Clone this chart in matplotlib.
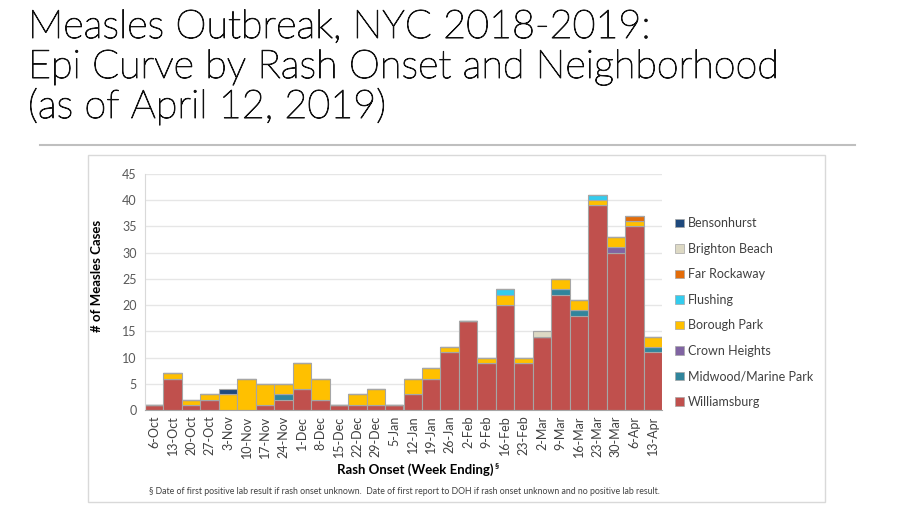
import matplotlib
matplotlib.use("Agg")
import matplotlib.pyplot as plt
import matplotlib.patheffects as pe
from matplotlib.patches import Rectangle
from matplotlib.lines import Line2D
import numpy as np

weeks = ["6-Oct", "13-Oct", "20-Oct", "27-Oct", "3-Nov", "10-Nov", "17-Nov", "24-Nov",
         "1-Dec", "8-Dec", "15-Dec", "22-Dec", "29-Dec", "5-Jan", "12-Jan", "19-Jan",
         "26-Jan", "2-Feb", "9-Feb", "16-Feb", "23-Feb", "2-Mar", "9-Mar", "16-Mar",
         "23-Mar", "30-Mar", "6-Apr", "13-Apr"]

williamsburg   = [1, 6, 1, 2, 0, 0, 1, 2, 4, 2, 1, 1, 1, 1, 3, 6, 11, 17, 9, 20, 9, 14, 22, 18, 39, 30, 35, 11]
midwood        = [0, 0, 0, 0, 0, 0, 0, 1, 0, 0, 0, 0, 0, 0, 0, 0, 0, 0, 0, 0, 0, 0, 1, 1, 0, 0, 0, 1]
crown_heights  = [0, 0, 0, 0, 0, 0, 0, 0, 0, 0, 0, 0, 0, 0, 0, 0, 0, 0, 0, 0, 0, 0, 0, 0, 0, 1, 0, 0]
borough_park   = [0, 1, 1, 1, 3, 6, 4, 2, 5, 4, 0, 2, 3, 0, 3, 2, 1, 0, 1, 2, 1, 0, 2, 2, 1, 2, 1, 2]
flushing       = [0, 0, 0, 0, 0, 0, 0, 0, 0, 0, 0, 0, 0, 0, 0, 0, 0, 0, 0, 1, 0, 0, 0, 0, 1, 0, 0, 0]
far_rockaway   = [0, 0, 0, 0, 0, 0, 0, 0, 0, 0, 0, 0, 0, 0, 0, 0, 0, 0, 0, 0, 0, 0, 0, 0, 0, 0, 1, 0]
brighton_beach = [0, 0, 0, 0, 0, 0, 0, 0, 0, 0, 0, 0, 0, 0, 0, 0, 0, 0, 0, 0, 0, 1, 0, 0, 0, 0, 0, 0]
bensonhurst    = [0, 0, 0, 0, 1, 0, 0, 0, 0, 0, 0, 0, 0, 0, 0, 0, 0, 0, 0, 0, 0, 0, 0, 0, 0, 0, 0, 0]

# stacking order bottom -> top
series = [
    ("Williamsburg", williamsburg, "#C0504D"),
    ("Midwood/Marine Park", midwood, "#31859C"),
    ("Crown Heights", crown_heights, "#8064A2"),
    ("Borough Park", borough_park, "#FFC000"),
    ("Flushing", flushing, "#33CCEE"),
    ("Far Rockaway", far_rockaway, "#E36C09"),
    ("Brighton Beach", brighton_beach, "#DDD9C4"),
    ("Bensonhurst", bensonhurst, "#1F497D"),
]

W, H = 900, 512
fig = plt.figure(figsize=(9, 5.12), dpi=100)
fig.patch.set_facecolor("white")

def fx(px):
    return px / W

def fy(py):
    return 1 - py / H

# Title
title_lines = ["Measles Outbreak, NYC 2018-2019:",
               "Epi Curve by Rash Onset and Neighborhood",
               "(as of April 12, 2019)"]
for i, line in enumerate(title_lines):
    fig.text(fx(28), fy(38 + 40 * i), line, fontsize=28.5, family="Lato",
             fontweight="light", color="#111111", va="baseline", ha="left",
             path_effects=[pe.withStroke(linewidth=0.7, foreground="#111111")])

# separator line
fig.add_artist(Line2D([fx(40), fx(855)], [fy(145), fy(145)], color="#bfbfbf", lw=1.5))

# chart box
box = Rectangle((fx(88), fy(502)), fx(825) - fx(88), fy(155) - fy(502),
                facecolor="none", edgecolor="#d9d9d9", lw=1.0, zorder=-1)
fig.add_artist(box)

ax = fig.add_axes([fx(145), fy(410), fx(662) - fx(145), fy(174) - fy(410)])
ax.set_facecolor("none")
x = np.arange(len(weeks))
bottom = np.zeros(len(weeks))
handles = []
for name, vals, col in series:
    v = np.array(vals, dtype=float)
    ax.bar(x, v, bottom=bottom, width=1.0, color=col, edgecolor="#a6a6a6", linewidth=0.8)
    bottom += v
    handles.append((name, col))

ax.set_xlim(-0.5, len(weeks) - 0.5)
ax.set_ylim(0, 45)
ax.set_yticks(range(0, 46, 5))
ax.yaxis.grid(True, color="#e6e6e6", lw=1.0)
ax.set_axisbelow(True)
for s in ["top", "right"]:
    ax.spines[s].set_visible(False)
ax.spines["left"].set_color("#d9d9d9")
ax.spines["bottom"].set_color("#a6a6a6")
ax.set_xticks(x)
ax.set_xticklabels(weeks, rotation=90, fontsize=9, family="Lato", color="#404040")
ax.tick_params(axis="y", length=0, labelsize=9, labelcolor="#595959", pad=6)
ax.tick_params(axis="x", length=0, pad=4)
for lab in ax.get_yticklabels():
    lab.set_family("Lato")

ax.set_ylabel("# of Measles Cases", fontsize=9.5, family="Lato", fontweight="bold",
              color="#000000", labelpad=7)
ax.yaxis.set_label_coords(-0.082, 0.57)

xl = fig.text(fx(415), fy(474), "Rash Onset (Week Ending)", fontsize=9.5, family="Lato",
              fontweight="bold", ha="center", va="baseline", color="#000000")
fig.canvas.draw()
bb = xl.get_window_extent()
fig.text(bb.x1 / W + 0.001, fy(468), "§", fontsize=6, family="Lato", fontweight="bold",
         ha="left", va="baseline", color="#000000")
fig.text(fx(404), fy(494), "§ Date of first positive lab result if rash onset unknown.  Date of first report to DOH if rash onset unknown and no positive lab result.",
         fontsize=6.3, family="Lato", ha="center", va="baseline", color="#404040")

# legend (reverse order: top item is last in stack)
leg_handles = [Rectangle((0, 0), 1, 1, facecolor=c, edgecolor="#a6a6a6", lw=0.5)
               for n, c in reversed(handles)]
leg_labels = [n for n, c in reversed(handles)]
fig.legend(leg_handles, leg_labels, loc="upper left", bbox_to_anchor=(fx(664), fy(206)),
           frameon=False, prop={"family": "Lato", "size": 9},
           handlelength=0.7, handleheight=0.7, handletextpad=0.3, labelspacing=1.08,
           labelcolor="#404040")

fig.savefig("out.png", dpi=100, facecolor="white")
